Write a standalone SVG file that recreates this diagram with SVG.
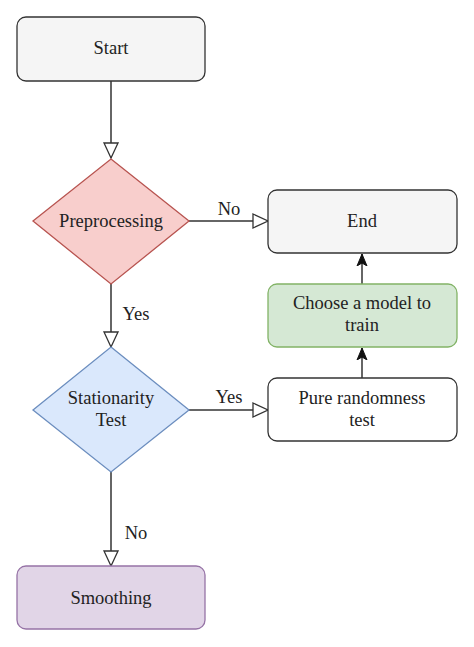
<svg xmlns="http://www.w3.org/2000/svg" width="474" height="647" viewBox="0 0 474 647">
<defs>
<marker id="open" markerWidth="18" markerHeight="18" refX="16" refY="8" orient="auto" markerUnits="userSpaceOnUse">
<path d="M1,1 L16,8 L1,15 Z" fill="#ffffff" stroke="#333333" stroke-width="1.3"/>
</marker>
<marker id="filled" markerWidth="14" markerHeight="14" refX="12" refY="6" orient="auto" markerUnits="userSpaceOnUse">
<path d="M0,1 L12,6 L0,11 L3,6 Z" fill="#111111" stroke="#111111" stroke-width="1"/>
</marker>
</defs>
<style>
text{font-family:"Liberation Serif","DejaVu Serif",serif;font-size:18.5px;fill:#222222;text-anchor:middle;dominant-baseline:central}
.line{stroke:#333333;stroke-width:1.5;fill:none}
.box{stroke-width:1.3}
</style>
<rect width="474" height="647" fill="#ffffff"/>
<g id="connectors">
<path class="line" d="M111,81 L111,158" marker-end="url(#open)"/>
<path class="line" d="M189,221 L268,221" marker-end="url(#open)"/>
<path class="line" d="M111,284 L111,347" marker-end="url(#open)"/>
<path class="line" d="M189,410 L268,410" marker-end="url(#open)"/>
<path class="line" d="M111,472 L111,566" marker-end="url(#open)"/>
<path class="line" d="M362,284 L362,254" marker-end="url(#filled)"/>
<path class="line" d="M362,378 L362,348" marker-end="url(#filled)"/>
<text x="229" y="209">No</text>
<text x="136" y="314">Yes</text>
<text x="229" y="397">Yes</text>
<text x="136" y="533">No</text>
</g>
<g id="start">
<rect class="box" x="17" y="17" width="188" height="64" rx="9" fill="#f5f5f5" stroke="#333333"/>
<text x="111" y="48">Start</text>
</g>
<g id="preprocessing">
<polygon class="box" points="111,159 189,221 111,284 33,221" fill="#f8cecc" stroke="#b85450"/>
<text x="111" y="221">Preprocessing</text>
</g>
<g id="end">
<rect class="box" x="268" y="190" width="189" height="63" rx="9" fill="#f5f5f5" stroke="#333333"/>
<text x="362" y="221">End</text>
</g>
<g id="choose">
<rect class="box" x="268" y="284" width="189" height="63" rx="9" fill="#d5e8d4" stroke="#82b366"/>
<text x="362" y="303">Choose a model to</text>
<text x="362" y="325">train</text>
</g>
<g id="stationarity">
<polygon class="box" points="111,347 189,410 111,472 33,410" fill="#dae8fc" stroke="#6c8ebf"/>
<text x="111" y="398">Stationarity</text>
<text x="111" y="420">Test</text>
</g>
<g id="pure">
<rect class="box" x="268" y="378" width="189" height="63" rx="9" fill="#ffffff" stroke="#333333"/>
<text x="362" y="398">Pure randomness</text>
<text x="362" y="420">test</text>
</g>
<g id="smoothing">
<rect class="box" x="17" y="566" width="188" height="63" rx="9" fill="#e1d5e7" stroke="#9673a6"/>
<text x="111" y="598">Smoothing</text>
</g>
</svg>
